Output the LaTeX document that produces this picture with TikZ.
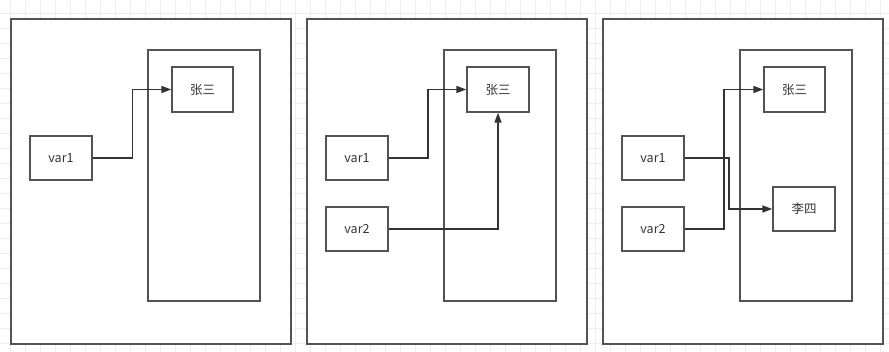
\documentclass[tikz,border=0pt]{standalone}
\usepackage{fontspec}
\setmainfont{Noto Sans CJK SC}
\usetikzlibrary{arrows.meta}
\definecolor{boxline}{HTML}{505357}
\definecolor{arrowline}{HTML}{333333}
\definecolor{txt}{HTML}{333333}
\definecolor{gridc}{HTML}{EEEEEE}
\tikzset{
  panel/.style={draw=boxline, line width=2pt, fill=white, inner sep=0pt},
  heap/.style={draw=boxline, line width=1.5pt, fill=white, inner sep=0pt},
  cell/.style={draw=boxline, line width=1.4pt, fill=white, inner sep=0pt,
    text=txt, font=\fontsize{12.5pt}{14pt}\selectfont},
  arr/.style={draw=arrowline, line width=1.5pt,
    -{Triangle[length=10pt,width=7pt]}},
}
\begin{document}
\begin{tikzpicture}[x=1pt,y=-1pt]
\useasboundingbox (0,0) rectangle (889,352);
\fill[white] (0,0) rectangle (889,352);
\foreach \x in {10,25,...,889} \draw[gridc, line width=1pt] (\x,0) -- (\x,352);
\foreach \y in {14,29,...,352} \draw[gridc, line width=1pt] (0,\y) -- (889,\y);

% Panel 1
\node[panel, minimum width=280pt, minimum height=325pt] (p1outer) at (151,181.5) {};
\node[heap, minimum width=112pt, minimum height=251pt] (p1inner) at (204,175.5) {};
\node[cell, minimum width=61pt, minimum height=45pt] (p1zs) at (202.5,89.5) {张三};
\node[cell, minimum width=62pt, minimum height=44pt] (p1v1) at (61,158) {var1};
\draw[arr] (p1v1.east) -- ++(40,0) |- (p1zs.west);

% Panel 2
\node[panel, minimum width=280pt, minimum height=325pt] (p2outer) at (447,181.5) {};
\node[heap, minimum width=112pt, minimum height=251pt] (p2inner) at (500,175.5) {};
\node[cell, minimum width=62pt, minimum height=45pt] (p2zs) at (498,89.5) {张三};
\node[cell, minimum width=62pt, minimum height=44pt] (p2v1) at (357,158) {var1};
\node[cell, minimum width=62pt, minimum height=44pt] (p2v2) at (357,229) {var2};
\draw[arr] (p2v1.east) -- ++(39.5,0) |- (p2zs.west);
\draw[arr] (p2v2.east) -| (p2zs.south);

% Panel 3
\node[panel, minimum width=280pt, minimum height=325pt] (p3outer) at (743,181.5) {};
\node[heap, minimum width=112pt, minimum height=251pt] (p3inner) at (796,175.5) {};
\node[cell, minimum width=61pt, minimum height=45pt] (p3zs) at (794.5,89.5) {张三};
\node[cell, minimum width=62pt, minimum height=44pt] (p3ls) at (804,209) {李四};
\node[cell, minimum width=62pt, minimum height=44pt] (p3v1) at (653,158) {var1};
\node[cell, minimum width=62pt, minimum height=44pt] (p3v2) at (653,229) {var2};
\draw[arr] (p3v2.east) -- ++(39.5,0) |- (p3zs.west);
\draw[arr] (p3v1.east) -- ++(44.5,0) |- (p3ls.west);
\end{tikzpicture}
\end{document}
